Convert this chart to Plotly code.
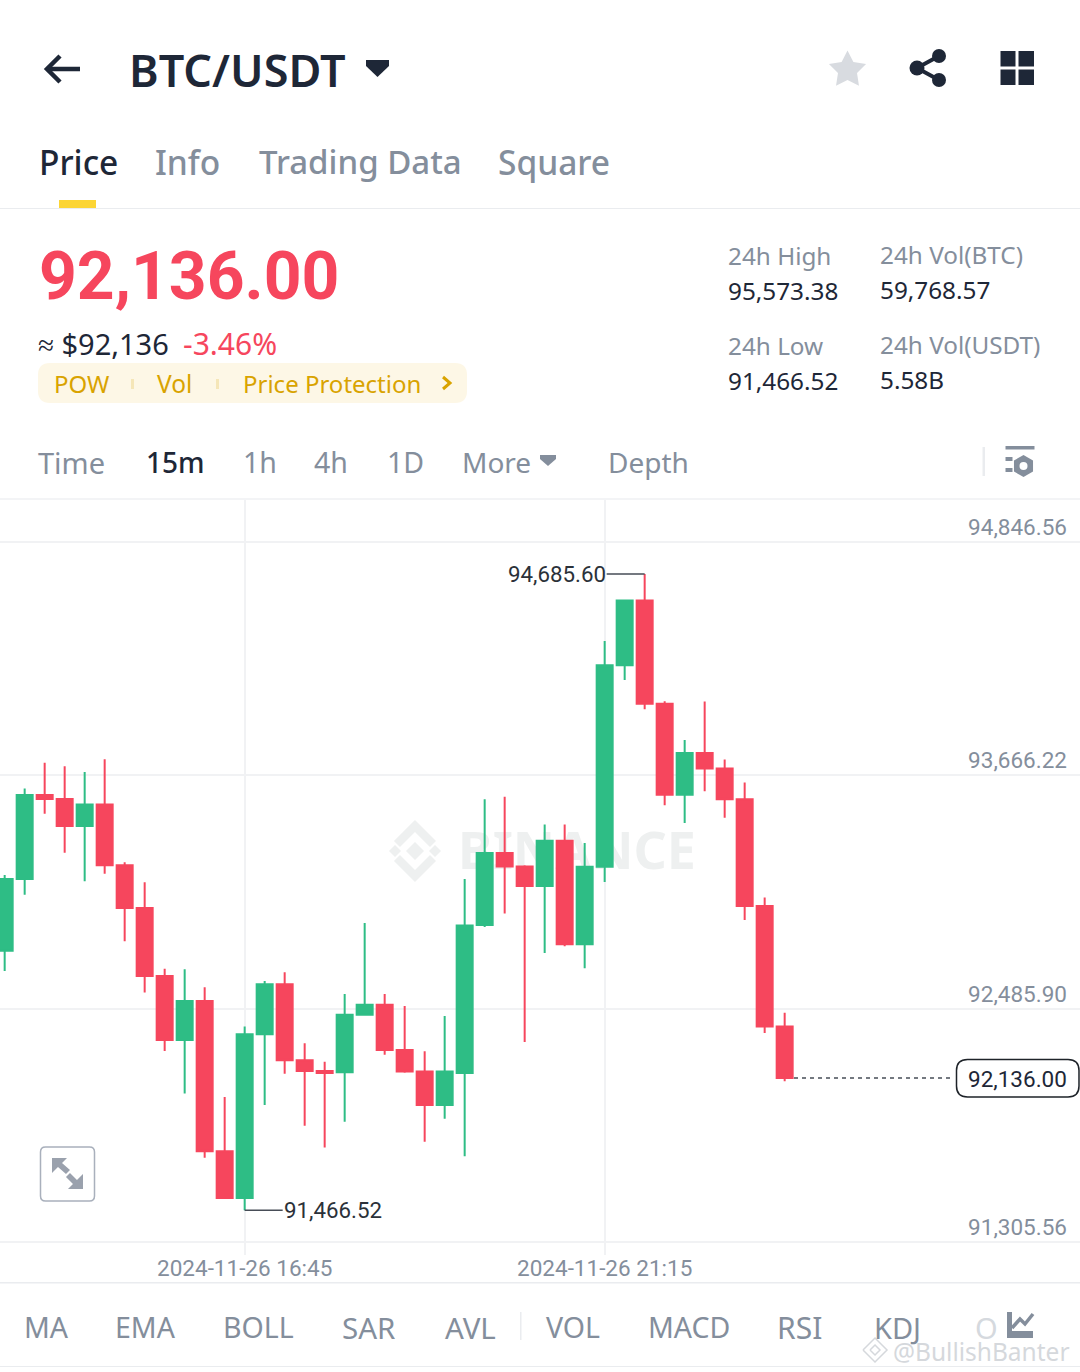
import math
import plotly.graph_objects as go

W = 1080
H = 1372

# 15m candles
times = ["2024-11-26 13:45", "2024-11-26 14:00", "2024-11-26 14:15", "2024-11-26 14:30", "2024-11-26 14:45",
         "2024-11-26 15:00", "2024-11-26 15:15", "2024-11-26 15:30", "2024-11-26 15:45", "2024-11-26 16:00",
         "2024-11-26 16:15", "2024-11-26 16:30", "2024-11-26 16:45", "2024-11-26 17:00", "2024-11-26 17:15",
         "2024-11-26 17:30", "2024-11-26 17:45", "2024-11-26 18:00", "2024-11-26 18:15", "2024-11-26 18:30",
         "2024-11-26 18:45", "2024-11-26 19:00", "2024-11-26 19:15", "2024-11-26 19:30", "2024-11-26 19:45",
         "2024-11-26 20:00", "2024-11-26 20:15", "2024-11-26 20:30", "2024-11-26 20:45", "2024-11-26 21:00",
         "2024-11-26 21:15", "2024-11-26 21:30", "2024-11-26 21:45", "2024-11-26 22:00", "2024-11-26 22:15",
         "2024-11-26 22:30", "2024-11-26 22:45", "2024-11-26 23:00", "2024-11-26 23:15", "2024-11-26 23:30"]
opens = [92780, 93143, 93568, 93547, 93411, 93520, 93212, 92996, 92652, 92328,
         92526, 91765, 91529, 92357, 92610, 92226, 92171, 92165, 92456, 92507,
         92277, 92169, 92000, 92161, 92910, 93274, 93206, 93107, 93336, 92813,
         93204, 94224, 94552, 94029, 93569, 93780, 93701, 93546, 93006, 92397]
highs = [93163, 93601, 93731, 93713, 93684, 93748, 93227, 93126, 92689, 92686,
         92595, 92040, 92396, 92627, 92671, 92312, 92218, 92561, 92920, 92561,
         92500, 92271, 92450, 93142, 93546, 93559, 93212, 93418, 93418, 93325,
         94346, 94555, 94685.60, 94042, 93846, 94040, 93747, 93631, 93049, 92466]
lows = [92677, 93063, 93473, 93276, 93131, 93169, 92828, 92568, 92273, 92057,
        91733, 91525, 91466.52, 91999, 92158, 91895, 91785, 91915, 92456, 92254,
        92163, 91814, 91930, 91740, 92900, 92968, 92318, 92768, 92803, 92691,
        93128, 94149, 94001, 93516, 93426, 93586, 93453, 92935, 92363, 92120]
closes = [93143, 93568, 93547, 93411, 93520, 93212, 92996, 92652, 92328, 92526,
          91765, 91529, 92357, 92610, 92226, 92171, 92161, 92456, 92507, 92277,
          92169, 92000, 92169, 92908, 93274, 93206, 93107, 93336, 92813, 93204,
          94224, 94552, 94029, 93569, 93780, 93701, 93546, 93006, 92397, 92136]

price_ticks = [94846.56, 93666.22, 92485.90, 91305.56]
time_ticks = ["2024-11-26 16:45", "2024-11-26 21:15"]
time_labels = ["2024-11-26 16:45", "2024-11-26 21:15"]
last_price = 92136.00
peak_price = 94685.60
peak_time = "2024-11-26 21:45"
low_price = 91466.52
low_time = "2024-11-26 16:45"

RED = "#F6465D"
GREEN = "#2EBD85"
DARK = "#1E2737"
GRAY = "#848E9C"
LINE = "#EAECEF"
GRID = "#F1F2F4"
GOLD = "#D9A300"
UI = "Noto Sans"
NUM = "Roboto"

shapes = []
notes = []


# pixel position to paper position
def px(x):
    return x / W


def py(y):
    return 1 - y / H


def path(points, close=True):
    d = "M" + " L".join(f"{px(x):.5f},{py(y):.5f}" for x, y in points)
    return d + (" Z" if close else "")


def poly(points, color, layer="above"):
    shapes.append(dict(type="path", xref="paper", yref="paper", path=path(points), fillcolor=color,
                       line=dict(width=0), layer=layer))


def stroke(points, color, width=2, dash="solid"):
    shapes.append(dict(type="path", xref="paper", yref="paper", path=path(points, close=False),
                       line=dict(color=color, width=width, dash=dash)))


def rect(x0, y0, x1, y1, color):
    shapes.append(dict(type="rect", xref="paper", yref="paper", x0=px(x0), x1=px(x1), y0=py(y0), y1=py(y1),
                       fillcolor=color, line=dict(width=0), layer="above"))


def rrect(x0, y0, x1, y1, r, fill="rgba(0,0,0,0)", border=None, width=0):
    d = f"M{px(x0 + r):.5f},{py(y0):.5f} L{px(x1 - r):.5f},{py(y0):.5f} "
    d += f"Q{px(x1):.5f},{py(y0):.5f} {px(x1):.5f},{py(y0 + r):.5f} L{px(x1):.5f},{py(y1 - r):.5f} "
    d += f"Q{px(x1):.5f},{py(y1):.5f} {px(x1 - r):.5f},{py(y1):.5f} L{px(x0 + r):.5f},{py(y1):.5f} "
    d += f"Q{px(x0):.5f},{py(y1):.5f} {px(x0):.5f},{py(y1 - r):.5f} L{px(x0):.5f},{py(y0 + r):.5f} "
    d += f"Q{px(x0):.5f},{py(y0):.5f} {px(x0 + r):.5f},{py(y0):.5f} Z"
    shapes.append(dict(type="path", xref="paper", yref="paper", path=d, fillcolor=fill,
                       line=dict(color=border or fill, width=width), layer="above"))


def circle(cx, cy, r, color):
    shapes.append(dict(type="circle", xref="paper", yref="paper", x0=px(cx - r), x1=px(cx + r),
                       y0=py(cy - r), y1=py(cy + r), fillcolor=color, line=dict(width=0), layer="above"))


def txt(x, y, text, size, color=GRAY, family=UI, weight=400, anchor="left"):
    notes.append(dict(xref="paper", yref="paper", x=px(x), y=py(y), text=text, showarrow=False,
                      xanchor=anchor, yanchor="middle", borderpad=0, borderwidth=0,
                      font=dict(size=size, color=color, family=family, weight=weight)))


fig = go.Figure()
fig.add_trace(go.Candlestick(
    x=times, open=opens, high=highs, low=lows, close=closes,
    increasing=dict(line=dict(color=GREEN, width=2), fillcolor=GREEN),
    decreasing=dict(line=dict(color=RED, width=2), fillcolor=RED),
    whiskerwidth=0, showlegend=False,
))

# header
stroke([(47, 69), (80, 69)], DARK, 4.5)
stroke([(60, 56), (47, 69), (60, 82)], DARK, 4.5)
txt(129, 69, "BTC/USDT", 45, DARK, UI, 600)
poly([(366, 60), (389, 60), (389, 66), (377.5, 77), (366, 66)], DARK)

# star, share, grid icons
star = []
for i in range(10):
    r = 19.5 if i % 2 == 0 else 10
    a = -math.pi / 2 + i * math.pi / 5
    star.append((847.5 + r * math.cos(a), 70 + r * math.sin(a)))
poly(star, "#D8DBE0")
stroke([(939, 56), (917, 68), (939, 80)], DARK, 4)
circle(939, 56, 7, DARK)
circle(917, 68, 7.5, DARK)
circle(939, 80, 7, DARK)
rect(1000.5, 51, 1015.5, 66.5, DARK)
rect(1018.5, 51, 1034, 66.5, DARK)
rect(1000.5, 69.5, 1015.5, 85, DARK)
rect(1018.5, 69.5, 1034, 85, DARK)

# tabs
txt(39, 162, "Price", 33.5, DARK, UI, 500)
txt(155, 162, "Info", 33.5, GRAY, UI, 500)
txt(259, 162, "Trading Data", 33, GRAY, UI, 500)
txt(498, 162, "Square", 33.5, GRAY, UI, 500)
rect(59, 200, 96, 208, "#FCD535")
rect(0, 208, W, 209, LINE)

# price block
txt(39, 277, "92,136.00", 66, RED, NUM, 700)
txt(38, 343, "≈ $92,136", 29, DARK, UI)
txt(183, 343, "-3.46%", 30, RED, UI)
rrect(38, 363, 467, 403, 12, "#FDF7E6")
txt(54, 383, "POW", 24, GOLD)
txt(157, 383, "Vol", 24.5, GOLD)
txt(243, 383, "Price Protection", 24, GOLD)
rect(131, 379, 134, 389, "#F5E6B8")
rect(216, 379, 219, 389, "#F5E6B8")
stroke([(443, 377), (450, 383), (443, 389)], GOLD, 3)

# 24h stats
txt(728, 255, "24h High", 24.3)
txt(728, 290, "95,573.38", 24.3, DARK)
txt(880, 254, "24h Vol(BTC)", 24.3)
txt(880, 289, "59,768.57", 24.3, DARK)
txt(728, 345, "24h Low", 24.3)
txt(728, 380, "91,466.52", 24.3, DARK)
txt(880, 344, "24h Vol(USDT)", 24.3)
txt(880, 379, "5.58B", 24.3, DARK)

# interval row
txt(38, 462, "Time", 29)
txt(146, 462, "15m", 28, DARK, UI, 500)
txt(243, 462, "1h", 28.5)
txt(314, 462, "4h", 28.5)
txt(387, 462, "1D", 28.5)
txt(462, 462, "More", 28)
poly([(540, 455), (556, 455), (556, 459), (548, 466), (540, 459)], GRAY)
txt(608, 462, "Depth", 28)
rect(982.5, 447, 985, 476, LINE)
rect(1005.5, 446, 1034.5, 449.5, GRAY)
rect(1005.5, 457, 1012.5, 461, GRAY)
rect(1005.5, 468, 1012.5, 472, GRAY)
hexa = []
for i in range(6):
    a = -math.pi / 2 + i * math.pi / 3
    hexa.append((1023.5 + 11 * math.cos(a), 466 + 11 * math.sin(a)))
poly(hexa, GRAY)
circle(1023.5, 466, 4, "#FFFFFF")
rect(0, 498, W, 500, "#F3F4F6")

# watermark behind the candles
poly([(415, 842), (424, 851), (415, 860), (406, 851)], "#EEF0F0", "below")
poly([(389, 851), (395, 845), (401, 851), (395, 857)], "#EEF0F0", "below")
poly([(429, 851), (435, 845), (441, 851), (435, 857)], "#EEF0F0", "below")
poly([(415, 820), (436, 841), (430, 847), (415, 832), (400, 847), (394, 841)], "#EEF0F0", "below")
poly([(415, 882), (436, 861), (430, 855), (415, 870), (400, 855), (394, 861)], "#EEF0F0", "below")
shapes.append(dict(type="rect", xref="paper", yref="paper", x0=px(458), x1=px(696), y0=py(880), y1=py(824),
                   line=dict(width=0), fillcolor="rgba(0,0,0,0)", layer="below",
                   label=dict(text="<b>BINANCE</b>", textposition="middle center",
                              font=dict(size=52, color="#EEF0F0", family=UI))))

# last price line and tag
shapes.append(dict(type="line", xref="paper", yref="y", x0=px(794), x1=px(950), y0=last_price, y1=last_price,
                   line=dict(color="#474D57", width=1.5, dash="4px,4px"), layer="above"))
rrect(956.5, 1059.5, 1079, 1097, 11, "#FFFFFF", "#1E2329", 1.5)
txt(1018, 1079, "92,136.00", 22.5, DARK, NUM, 400, "center")

# high and low labels
notes.append(dict(x=peak_time, y=peak_price, xref="x", yref="y", text="94,685.60", showarrow=True,
                  arrowhead=0, arrowwidth=1.5, arrowcolor="#474D57", ax=-38, ay=0, xanchor="right",
                  yanchor="middle", standoff=0, borderpad=0,
                  font=dict(size=22.3, color="#2B3139", family=NUM)))
notes.append(dict(x=low_time, y=low_price, xref="x", yref="y", text="91,466.52", showarrow=True,
                  arrowhead=0, arrowwidth=1.5, arrowcolor="#474D57", ax=38, ay=0, xanchor="left",
                  yanchor="middle", standoff=0, borderpad=0,
                  font=dict(size=22.3, color="#2B3139", family=NUM)))

# expand button
rrect(40.5, 1147, 94.5, 1201, 5, "rgba(255,255,255,0)", "#A9B0BC", 1.5)
poly([(52, 1158), (67, 1158), (62, 1163), (70, 1170), (66, 1174), (58, 1167), (52, 1173)], "#9AA1AD")
poly([(83, 1189), (68, 1189), (73, 1184), (66, 1177), (70, 1173), (77, 1180), (83, 1174)], "#9AA1AD")

# lower indicator row
rect(0, 1282, W, 1283.5, LINE)
txt(24, 1327, "MA", 28.5)
txt(115, 1327, "EMA", 28.5)
txt(223, 1327, "BOLL", 28.5)
txt(342, 1327, "SAR", 29.5)
txt(445, 1327, "AVL", 29.5)
rect(520, 1312, 521.5, 1340, LINE)
txt(546, 1327, "VOL", 28.5)
txt(648, 1327, "MACD", 28.5)
txt(777, 1327, "RSI", 30)
txt(874, 1327, "KDJ", 29)
txt(975, 1327, "O", 29, "#D5D9DE")
poly([(1007, 1312), (1012, 1312), (1012, 1331), (1033, 1331), (1033, 1338), (1007, 1338)], GRAY)
stroke([(1012, 1328), (1020, 1319), (1025, 1324), (1033, 1314)], GRAY, 3.5)
rect(0, 1366, W, 1367, LINE)

# square watermark
stroke([(863, 1350), (875, 1338), (887, 1350), (875, 1362), (863, 1350)], "#D5D8DC", 1.5)
stroke([(870, 1350), (875, 1345), (880, 1350), (875, 1355), (870, 1350)], "#D5D8DC", 1.5)
txt(893, 1351, "@BullishBanter", 24.5, "#D5D8DC")

fig.update_layout(
    width=W, height=H,
    margin=dict(l=0, r=0, t=0, b=0),
    paper_bgcolor="#FFFFFF", plot_bgcolor="rgba(0,0,0,0)",
    showlegend=False, boxgap=0.2, boxgroupgap=0,
    shapes=shapes, annotations=notes,
    xaxis=dict(
        type="date", domain=[0, 1],
        range=["2024-11-26 13:41:30", "2024-11-27 03:11:30"],
        rangeslider=dict(visible=False),
        tickmode="array", tickvals=time_ticks, ticktext=time_labels,
        ticklabelstandoff=-3,
        showgrid=True, gridcolor=GRID, gridwidth=1.5, zeroline=False, showline=False,
        ticks="", tickfont=dict(size=22.5, color=GRAY, family=NUM),
    ),
    yaxis=dict(
        domain=[py(1255), py(500)],
        range=[91240.6, 95059.8],
        side="right", tickmode="array", tickvals=price_ticks, tickformat=",.2f",
        ticklabelposition="inside", ticklabelshift=-15, ticklabelstandoff=10,
        showgrid=True, gridcolor=GRID, gridwidth=1.5, zeroline=False, showline=False,
        ticks="", tickfont=dict(size=22.5, color=GRAY, family=NUM),
    ),
)

fig.write_html("out.html", config=dict(displayModeBar=False),
               post_script="document.body.style.margin='0';")
